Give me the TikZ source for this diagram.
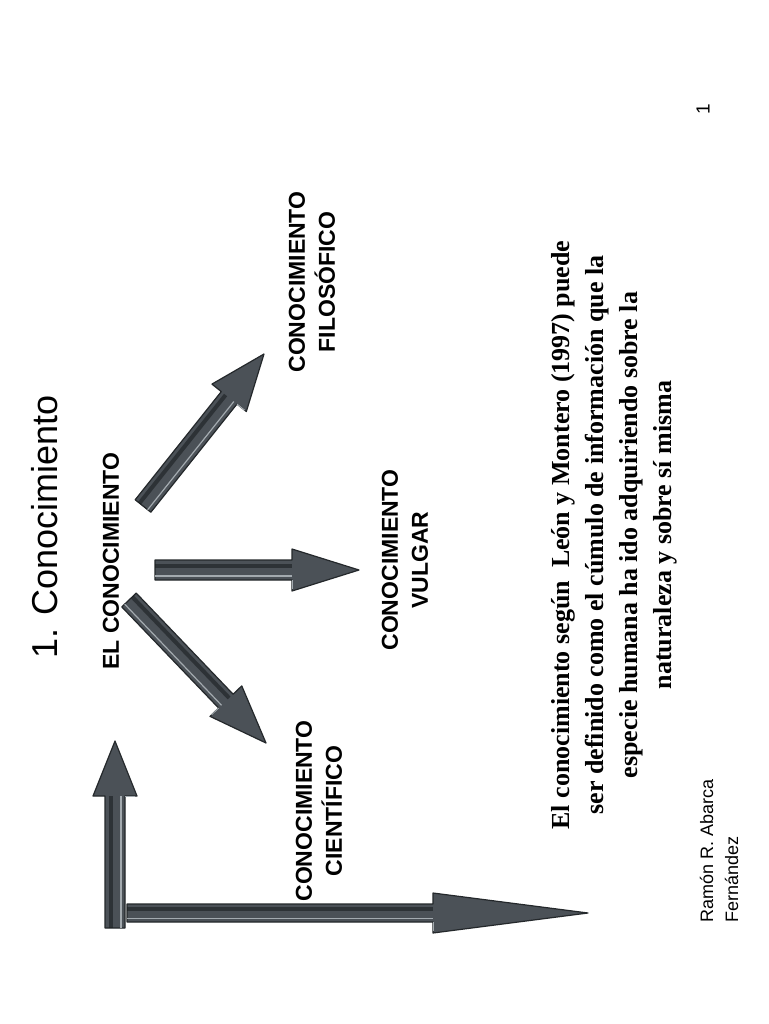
\documentclass[tikz,border=0pt]{standalone}
\usepackage{fontspec}
\setmainfont{Liberation Sans}
\newfontfamily\serifa{Liberation Serif}
\usetikzlibrary{calc}
\definecolor{FlGris}{HTML}{4B5157}
\definecolor{FlBorde}{HTML}{24282B}
\definecolor{FlLuz}{HTML}{A3AAAF}
\definecolor{FlSombra}{HTML}{16191B}

\newcommand{\flecha}[5]{%
  \coordinate (hb) at ($(#2)!#5pt!(#1)$);
  \filldraw[draw=FlBorde,fill=FlGris,line width=1.2pt,line join=round]
    ($(#1)!#3pt!90:(#2)$) -- ($(hb)!#3pt!90:(#2)$) -- ($(hb)!#4pt!90:(#2)$) -- (#2)
    -- ($(hb)!#4pt!-90:(#2)$) -- ($(hb)!#3pt!-90:(#2)$) -- ($(#1)!#3pt!-90:(#2)$) -- cycle;
  \draw[FlSombra,opacity=.55,line width=4pt]
    ($(#1)!0.45*#3pt!90:(#2)$) -- ($(hb)!0.45*#3pt!90:(#2)$);
  \draw[FlLuz,line width=1.2pt]
    ($(#1)!0.6*#3pt!-90:(#2)$) -- ($(hb)!0.6*#3pt!-90:(#2)$);
  \draw[FlLuz,line width=1pt]
    ($(hb)!0.9*#4pt!-90:(#2)$) -- ($(hb)!#3pt!-90:(#2)$);
}

\begin{document}
\begin{tikzpicture}[x=1pt,y=-1pt,
  etiqueta/.style={rotate=90,align=center,font=\fontsize{23}{30}\selectfont\bfseries}]
\path[use as bounding box] (0,0) rectangle (768,1024);
\fill[white] (0,0) rectangle (768,1024);

\node[rotate=90,font=\fontsize{36}{42}\selectfont] (titulo) at (45,527) {1. Conocimiento};
\node[rotate=90,font=\fontsize{19}{20}\selectfont] (pagina) at (703,109) {1};

\node[etiqueta] (raiz) at (111,561) {EL CONOCIMIENTO};
\node[etiqueta] (filosofico) at (312,282) {CONOCIMIENTO\\FILOSÓFICO};
\node[etiqueta] (vulgar) at (405,560) {CONOCIMIENTO\\VULGAR};
\node[etiqueta] (cientifico) at (319,811) {CONOCIMIENTO\\CIENTÍFICO};

\node[rotate=90,align=center,font=\serifa\fontsize{26}{34}\selectfont\bfseries] (definicion) at (614,535)
  {El conocimiento según~ León y Montero (1997) puede\\
   ser definido como el cúmulo de información que la\\
   especie humana ha ido adquiriendo sobre la\\
   naturaleza y sobre sí misma};

\node[rotate=90,align=left,font=\fontsize{18}{25}\selectfont] (autor) at (719,851)
  {Ramón R. Abarca\\Fernández};

\coordinate (ejeV0) at (115,928);
\coordinate (ejeV1) at (115,741);
\coordinate (ejeH0) at (127,913);
\coordinate (ejeH1) at (588,913);
\coordinate (filo0) at (143,506);
\coordinate (filo1) at (264,354);
\coordinate (vulg0) at (155,570);
\coordinate (vulg1) at (359,570);
\coordinate (cien0) at (129,600);
\coordinate (cien1) at (266,743);

\flecha{ejeH0}{ejeH1}{9}{20}{155}
\flecha{ejeV0}{ejeV1}{10}{22}{55}
\flecha{filo0}{filo1}{10}{22}{56}
\flecha{vulg0}{vulg1}{10}{21}{67}
\flecha{cien0}{cien1}{10}{22}{58}
\end{tikzpicture}
\end{document}
